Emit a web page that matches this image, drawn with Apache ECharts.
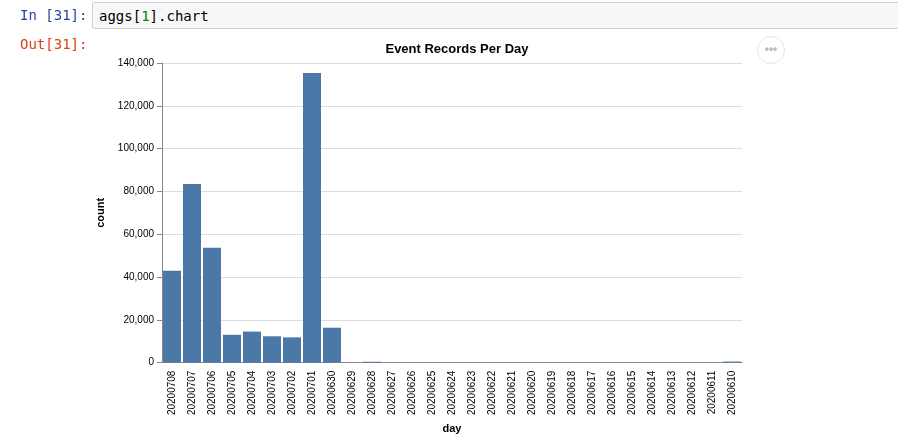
<!doctype html>
<html>
<head>
<meta charset="UTF-8">
<title>Event Records Per Day</title>
<script src="https://cdn.jsdelivr.net/npm/echarts@6/dist/echarts.min.js"></script>
<style>
    body { margin: 0; background: #fff; font-family: "DejaVu Sans Mono", monospace; }
    .prompt { position: absolute; left: 20px; font-size: 14px; }
    .in { top: 7px; color: #303F9F; }
    .out { top: 36px; color: #D84315; }
    .cell { position: absolute; left: 92px; top: 2px; width: 820px; height: 27px;
            background: #f7f7f7; border: 1px solid #cfcfcf; border-radius: 2px;
            font-size: 14px; line-height: 27px; padding-left: 6px; box-sizing: border-box; color: #000; }
    .cell .n { color: #008800; }
    .menu { position: absolute; left: 757px; top: 36px; width: 26px; height: 26px; border-radius: 50%;
            border: 1px solid #e6e6e6; color: #bbb; font: bold 12px sans-serif; text-align: center; line-height: 24px; }
    #main { position: absolute; left: 0; top: 0; width: 898px; height: 439px; }
</style>
</head>
<body>
<div id="main"></div>
<div class="prompt in">In [31]:</div>
<div class="cell">aggs[<span class="n">1</span>].chart</div>
<div class="prompt out">Out[31]:</div>
<div class="menu">&bull;&bull;&bull;</div>
<script>
    var days = ['20200708', '20200707', '20200706', '20200705', '20200704', '20200703', '20200702',
        '20200701', '20200630', '20200629', '20200628', '20200627', '20200626', '20200625', '20200624',
        '20200623', '20200622', '20200621', '20200620', '20200619', '20200618', '20200617', '20200616',
        '20200615', '20200614', '20200613', '20200612', '20200611', '20200610'];
    var counts = [42900, 83500, 53700, 13000, 14500, 12300, 11800, 135300, 16300, 0, 400, 0, 0, 0, 0,
        0, 0, 0, 0, 0, 0, 0, 0, 0, 0, 0, 0, 0, 500];

    var myChart = echarts.init(document.getElementById('main'));
    myChart.setOption({
        animation: false,
        title: {
            text: 'Event Records Per Day', left: 452, top: 38, textAlign: 'center',
            textStyle: { fontFamily: 'Liberation Sans', fontSize: 13, fontWeight: 'bold', color: '#000' }
        },
        grid: { left: 162, right: 156, top: 63, bottom: 76, containLabel: false },
        xAxis: {
            type: 'category', data: days, name: 'day', nameLocation: 'middle', nameGap: 60,
            nameTextStyle: { fontFamily: 'Liberation Sans', fontSize: 11, fontWeight: 'bold', color: '#000' },
            axisLine: { lineStyle: { color: '#888' } },
            axisTick: { alignWithLabel: true, lineStyle: { color: '#888' } },
            axisLabel: { rotate: 90, fontFamily: 'Liberation Sans', fontSize: 10, color: '#000', interval: 0 }
        },
        yAxis: {
            type: 'value', min: 0, max: 140000, interval: 20000, name: 'count',
            nameLocation: 'middle', nameGap: 50, nameRotate: 90,
            nameTextStyle: { fontFamily: 'Liberation Sans', fontSize: 11, fontWeight: 'bold', color: '#000' },
            axisLine: { show: true, lineStyle: { color: '#888' } },
            axisTick: { show: true, lineStyle: { color: '#888' } },
            splitLine: { lineStyle: { color: '#ddd' } },
            axisLabel: {
                fontFamily: 'Liberation Sans', fontSize: 10, color: '#000',
                formatter: function (v) { return v.toLocaleString('en-US'); }
            }
        },
        series: [{
            type: 'bar', data: counts, barCategoryGap: '10%',
            itemStyle: { color: '#4c78a8' }, silent: true
        }]
    });
</script>
</body>
</html>
